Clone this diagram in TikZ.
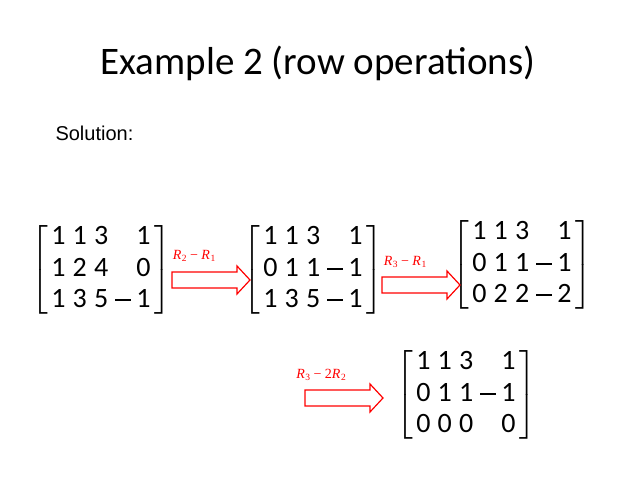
\documentclass[tikz,border=0pt]{standalone}
\usepackage{amsmath}
\usepackage{fontspec}
\setmainfont{Carlito}
\newfontfamily\arialf{Liberation Sans}
\newfontfamily\labf{Liberation Serif}
\newcommand\mx[1]{{\fontsize{28}{33}\selectfont$\left[\renewcommand\arraystretch{0.95}\setlength\arraycolsep{3.6pt}\begin{array}{cccr}#1\end{array}\right]$}}
\newcommand\mns{\rule[0.24em]{0.55em}{0.06em}\kern0.2em}
\newcommand\mo{\text{\mns 1}}
\newcommand\mt{\text{\mns 2}}
\newcommand\Rs[1]{\textit{R}\kern0.5pt\raisebox{-2.5pt}{\fontsize{9.5}{11}\selectfont #1}}
\tikzset{
 oplab/.style={text=red, font=\labf\fontsize{14}{16}\selectfont, inner sep=1pt},
 blockarrow/.style={draw=red, fill=white, line width=1.2pt, line join=miter}
}
\newcommand\barrow[3]{% name, x, y (center)
 \draw[blockarrow] (#2-39,#3-8) -- (#2+26,#3-8) -- (#2+26,#3-14) -- (#2+39,#3) -- (#2+26,#3+14) -- (#2+26,#3+8) -- (#2-39,#3+8) -- cycle;
 \coordinate (#1) at (#2,#3);}
\begin{document}
\begin{tikzpicture}[x=1pt,y=-1pt]
\useasboundingbox[fill=white] (0,0) rectangle (638,478);
\node (title) at (318,63) {\fontsize{39}{46}\selectfont Example 2 (row operations)};
\node[anchor=west] (sol) at (52,133) {\arialf\fontsize{20}{24}\selectfont Solution:};
\node (m1) at (101,270) {\mx{\text{1}&\text{1}&\text{3}&\text{1}\\\text{1}&\text{2}&\text{4}&\text{0}\\\text{1}&\text{3}&\text{5}&\mo}};
\node (m2) at (313,270) {\mx{\text{1}&\text{1}&\text{3}&\text{1}\\\text{0}&\text{1}&\text{1}&\mo\\\text{1}&\text{3}&\text{5}&\mo}};
\node (m3) at (522,265) {\mx{\text{1}&\text{1}&\text{3}&\text{1}\\\text{0}&\text{1}&\text{1}&\mo\\\text{0}&\text{2}&\text{2}&\mt}};
\node (m4) at (466,395) {\mx{\text{1}&\text{1}&\text{3}&\text{1}\\\text{0}&\text{1}&\text{1}&\mo\\\text{0}&\text{0}&\text{0}&\text{0}}};
\barrow{a1}{211}{280}
\barrow{a2}{421}{285}
\barrow{a3}{344}{398}
\node[oplab] (l1) at (194,256) {\Rs{2} − \Rs{1}};
\node[oplab] (l2) at (405,262) {\Rs{3} − \Rs{1}};
\node[oplab] (l3) at (321,375) {\Rs{3} − 2\Rs{2}};
\end{tikzpicture}
\end{document}
